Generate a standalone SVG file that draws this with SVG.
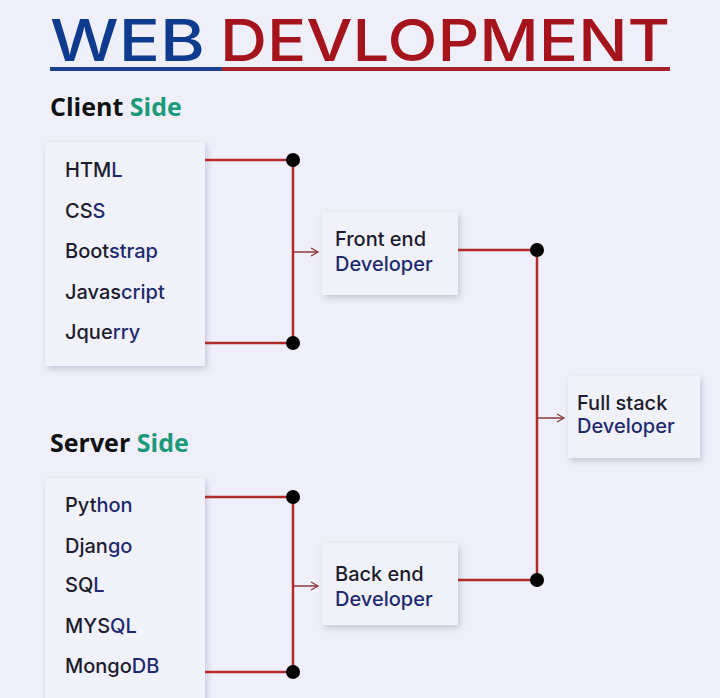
<svg xmlns="http://www.w3.org/2000/svg" width="720" height="698" viewBox="0 0 720 698">
<defs>
<filter id="sh" x="-20%" y="-20%" width="140%" height="140%"><feDropShadow dx="2" dy="3" stdDeviation="3" flood-color="#9aa0b8" flood-opacity="0.5"/></filter>
<marker id="ar" markerWidth="10" markerHeight="10" refX="8" refY="5" orient="auto" markerUnits="userSpaceOnUse"><path d="M1,1 L8,5 L1,9" fill="none" stroke="#8a3a3a" stroke-width="1.3"/></marker>
</defs>
<style>
.box{fill:#f1f1fa;filter:url(#sh)}
.t{font-family:"Inter","Liberation Sans",sans-serif;font-size:20px;fill:#1c1c2c;font-weight:500}
.n{fill:#1e2a6e}
.h{font-family:"Open Sans","Liberation Sans",sans-serif;font-weight:bold;font-size:25px;fill:#111}
.g{fill:#1a9a7a}
.c{stroke:#b22a2a;stroke-width:2.5;fill:none}
.a{stroke:#8a3a3a;stroke-width:1.5;fill:none}
</style>
<rect width="720" height="698" fill="#efeff9"/>
<g id="title" font-family="Inter,Liberation Sans,sans-serif" font-size="58" font-weight="500">
<text x="50" y="61" fill="#0f3b8f" textLength="155" lengthAdjust="spacingAndGlyphs">WEB</text>
<text x="220" y="61" fill="#a5141c" textLength="450" lengthAdjust="spacingAndGlyphs">DEVLOPMENT</text>
<line x1="50" y1="69" x2="222" y2="69" stroke="#1d3f8c" stroke-width="4"/>
<line x1="222" y1="69" x2="670" y2="69" stroke="#a5222a" stroke-width="4"/>
</g>
<text class="h" x="50" y="116">Client <tspan class="g">Side</tspan></text>
<text class="h" x="50" y="452">Server <tspan class="g">Side</tspan></text>
<g id="client">
<rect class="box" x="45" y="142" width="160" height="224"/>
<text class="t" x="65" y="177">HTM<tspan class="n">L</tspan></text>
<text class="t" x="65" y="218">CS<tspan class="n">S</tspan></text>
<text class="t" x="65" y="258">Boot<tspan class="n">strap</tspan></text>
<text class="t" x="65" y="299">Javas<tspan class="n">cript</tspan></text>
<text class="t" x="65" y="339">Jque<tspan class="n">rry</tspan></text>
</g>
<g id="server">
<rect class="box" x="45" y="478" width="160" height="225"/>
<text class="t" x="65" y="512">Pyt<tspan class="n">hon</tspan></text>
<text class="t" x="65" y="553">Djan<tspan class="n">go</tspan></text>
<text class="t" x="65" y="592">SQ<tspan class="n">L</tspan></text>
<text class="t" x="65" y="633">MYS<tspan class="n">QL</tspan></text>
<text class="t" x="65" y="673">Mongo<tspan class="n">DB</tspan></text>
</g>
<g id="frontend">
<rect class="box" x="322" y="212" width="136" height="83"/>
<text class="t" x="335" y="246">Front end</text>
<text class="t n" x="335" y="271">Developer</text>
</g>
<g id="backend">
<rect class="box" x="322" y="543" width="136" height="82"/>
<text class="t" x="335" y="581">Back end</text>
<text class="t n" x="335" y="606">Developer</text>
</g>
<g id="fullstack">
<rect class="box" x="568" y="376" width="132" height="82"/>
<text class="t" x="577" y="410" font-size="17" font-weight="600">Full stack</text>
<text class="t n" x="577" y="433" font-size="17" font-weight="600">Developer</text>
</g>
<g id="connectors">
<path class="c" d="M205,160 H293 V343 H205"/>
<path class="a" d="M293,252 H318" marker-end="url(#ar)"/>
<path class="c" d="M205,497 H293 V672 H205"/>
<path class="a" d="M293,586 H318" marker-end="url(#ar)"/>
<path class="c" d="M458,250 H537 V580 H458"/>
<path class="a" d="M537,418 H564" marker-end="url(#ar)"/>
<g fill="#000"><circle cx="293" cy="160" r="7"/><circle cx="293" cy="343" r="7"/><circle cx="293" cy="497" r="7"/><circle cx="293" cy="672" r="7"/><circle cx="537" cy="250" r="7"/><circle cx="537" cy="580" r="7"/></g>
</g>
</svg>
